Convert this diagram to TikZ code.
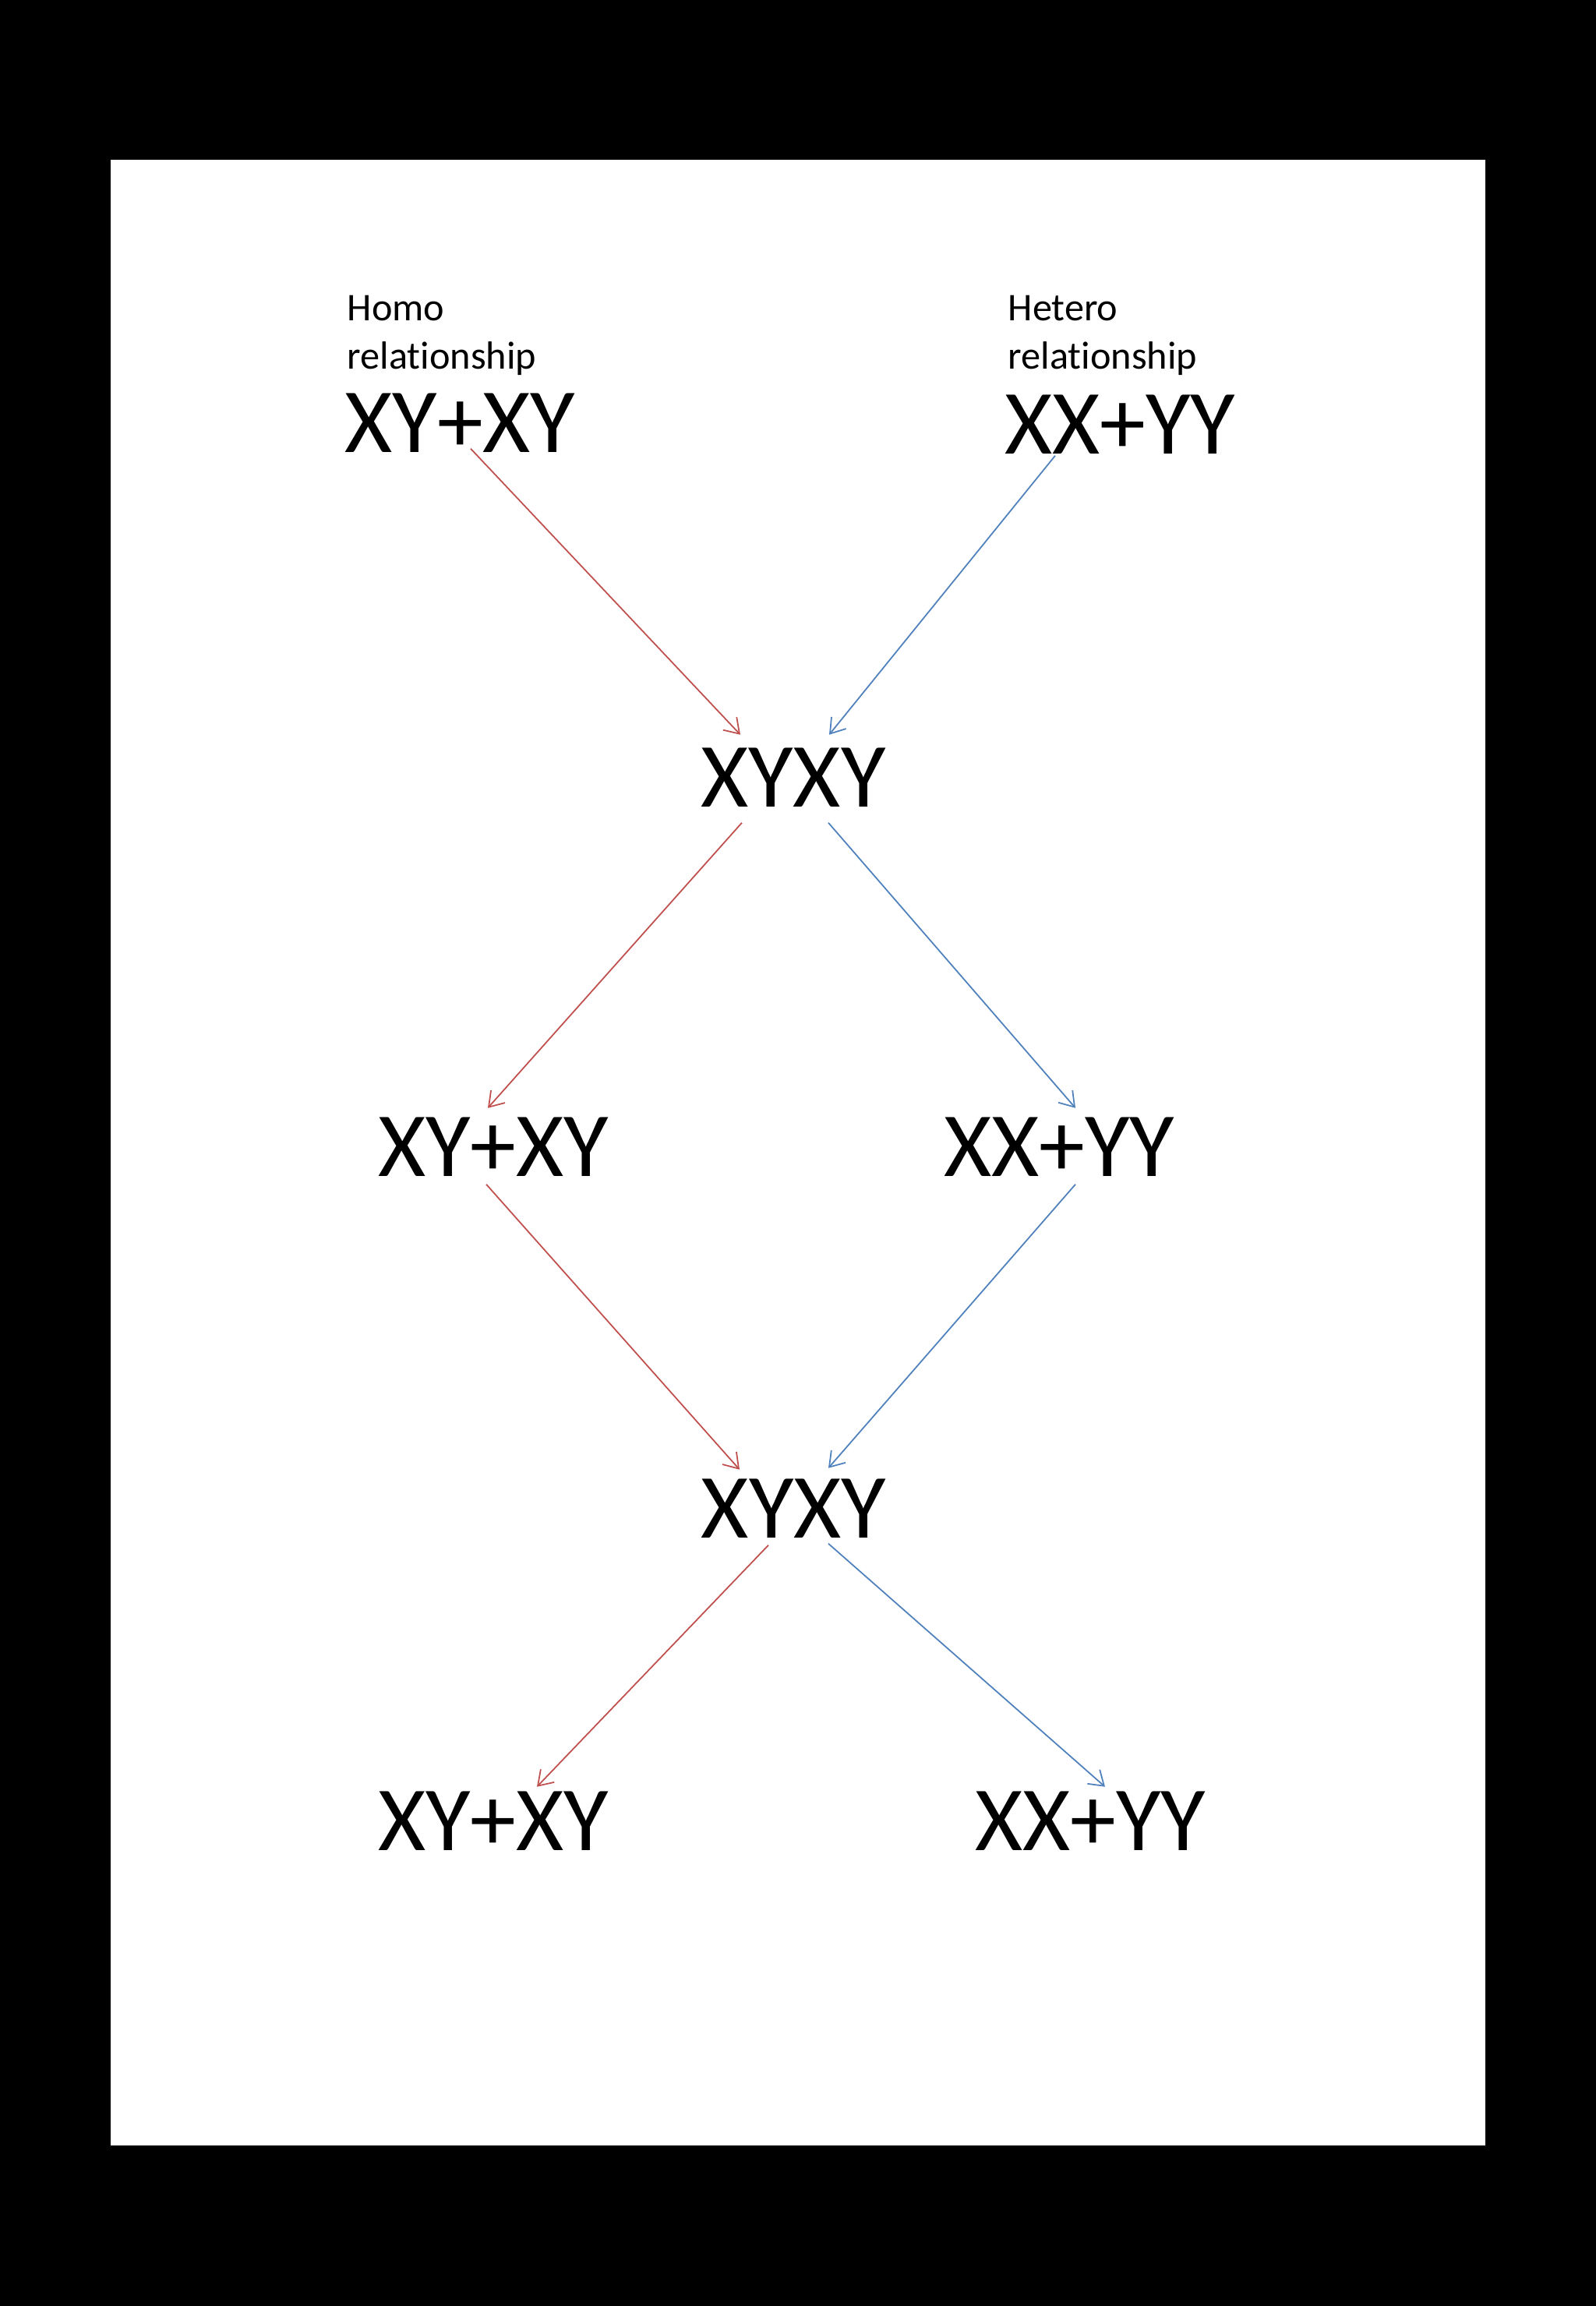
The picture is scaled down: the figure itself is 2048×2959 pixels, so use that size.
\documentclass[tikz,border=0pt]{standalone}
\usepackage{fontspec}
\setmainfont{Carlito}[Ligatures=NoCommon]
\usetikzlibrary{arrows.meta,calc}
\definecolor{homored}{RGB}{192,80,77}
\definecolor{heteroblue}{RGB}{79,129,189}

\begin{document}
\begin{tikzpicture}[x=0.01cm, y=-0.01cm,
  pair/.style={inner sep=0pt, anchor=base, font=\fontsize{33.5}{40}\selectfont},
  reltext/.style={inner sep=0pt, anchor=base west, align=left,
              font=\fontsize{14.3}{17.4}\selectfont},
  homo/.style={-{Straight Barb[length=1.8mm, width=2.4mm]}, draw=homored, line width=0.5pt},
  hetero/.style={-{Straight Barb[length=1.8mm, width=2.4mm]}, draw=heteroblue, line width=0.5pt},
]
% Page
\fill[black] (0,0) rectangle (2048,2959);
\fill[white] (142,205) rectangle (1906,2753);

% Row 1: Parents
\node[reltext] (homolbl) at (445,473) {Homo\\relationship};
\node[reltext] (heterolbl) at (1293,473) {Hetero\\relationship};
\node[pair] (t1) at (590.5,580) {XY+XY};
\node[pair] (t2) at (1437.5,582) {XX+YY};

% Row 2: Combined
\node[pair] (x1) at (1018,1035) {XYXY};

% Row 3: Split
\node[pair] (m1) at (633,1509) {XY+XY};
\node[pair] (m2) at (1359,1509) {XX+YY};

% Row 4: Combined again
\node[pair] (x2) at (1018.5,1973) {XYXY};

% Row 5: Split again
\node[pair] (b1) at (633,2374) {XY+XY};
\node[pair] (b2) at (1399,2374) {XX+YY};

\draw[homo] ($(t1.south)+(13.5,-5)$) -- ($(x1.north)+(-68,-16)$);
\draw[hetero] ($(t2.south)+(-83.5,2)$) -- ($(x1.north)+(46,-16)$);
\draw[homo] ($(x1.south)+(-66,20)$) -- ($(m1.north)+(-7,-11)$);
\draw[hetero] ($(x1.south)+(45,20)$) -- ($(m2.north)+(21,-11)$);
\draw[homo] ($(m1.south)+(-9,10)$) -- ($(x2.north)+(-69.5,-11)$);
\draw[hetero] ($(m2.south)+(21,10)$) -- ($(x2.north)+(44.5,-13)$);
\draw[homo] ($(x2.south)+(-32.5,9)$) -- ($(b1.north)+(56,-5)$);
\draw[hetero] ($(x2.south)+(44.5,7)$) -- ($(b2.north)+(19,-5)$);
\end{tikzpicture}
\end{document}
